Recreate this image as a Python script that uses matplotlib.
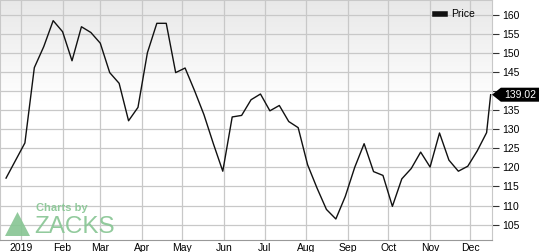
import numpy as np
import pandas as pd
import matplotlib
matplotlib.use("Agg")
import matplotlib.pyplot as plt
from matplotlib.patches import Polygon

plt.rcParams['font.family'] = ['Liberation Sans', 'DejaVu Sans']

# weekly closes, plus the last daily close
week_start = "2018-12-21"
prices = [117.2, 121.8, 126.4, 146.1, 151.6, 158.4, 155.5, 147.9, 156.8, 155.3,
          152.5, 144.8, 142.0, 132.2, 135.7, 150.0, 157.7, 157.7, 144.8, 146.0,
          140.1, 133.8, 126.2, 119.0, 133.2, 133.6, 137.7, 139.2, 134.8, 136.2,
          132.0, 130.4, 120.7, 114.6, 109.0, 106.5, 112.4, 120.0, 126.2, 118.9,
          117.9, 109.8, 117.0, 119.7, 124.0, 120.1, 129.0, 121.9, 119.0, 120.3,
          124.3, 129.1]
last_date = "2019-12-16"
last_price = 139.02

y_ticks = [105, 110, 115, 120, 125, 130, 135, 140, 145, 150, 155, 160]
y_labels = ["105", "110", "115", "120", "125", "130", "135", "", "145", "150", "155", "160"]
month_ticks = pd.date_range("2019-01-01", periods=12, freq="MS")
month_labels = ["2019", "Feb", "Mar", "Apr", "May", "Jun", "Jul", "Aug", "Sep", "Oct", "Nov", "Dec"]

dates = list(pd.date_range(week_start, periods=len(prices), freq="7D")) + [pd.Timestamp(last_date)]
values = prices + [last_price]

y_lo, y_hi = 101.0, 163.8

fig = plt.figure(figsize=(5.39, 2.52), dpi=100)
ax = fig.add_axes([0, 12 / 252, 492 / 539, 240 / 252])

# gradient background: light grey at top fading to white ~40% down
frac = np.linspace(0, 1, 256).reshape(-1, 1)
grad = np.clip((frac - 0.58) / 0.42, 0, 1)
cmap = matplotlib.colors.LinearSegmentedColormap.from_list("bg", ["#ffffff", "#e8e8e8"])
ax.imshow(grad, extent=[0, 1, 0, 1], transform=ax.transAxes, cmap=cmap,
          aspect="auto", origin="lower", zorder=0, vmin=0, vmax=1)

ax.plot(dates, values, color="#111111", linewidth=1.0, zorder=3, label="Price")

ax.set_xlim(pd.Timestamp("2018-12-16 12:00"), pd.Timestamp("2019-12-17"))
ax.set_ylim(y_lo, y_hi)

ax.yaxis.tick_right()
ax.set_yticks(y_ticks)
ax.set_yticklabels(y_labels)
ax.set_xticks(month_ticks)
ax.set_xticklabels(month_labels)
ax.tick_params(axis="y", length=5, width=0.8, color="#333333", pad=2, labelsize=7.5)
ax.tick_params(axis="x", length=0, pad=2.5, labelsize=7.5)

ax.grid(True, color="#c8c8c8", linewidth=0.9, zorder=1)
ax.set_axisbelow(True)
for side in ["top", "left", "right"]:
    ax.spines[side].set_color("#c8c8c8")
ax.spines["bottom"].set_color("#999999")

# legend
leg = ax.legend(loc="upper right", bbox_to_anchor=(0.985, 1.0), frameon=False,
                fontsize=7.5, handlelength=1.0, handletextpad=0.6)
for h in leg.legend_handles:
    h.set_linewidth(4)

# last price marker
y_frac = (last_price - y_lo) / (y_hi - y_lo)
half = 7 / 240
tag = Polygon([[1.0, y_frac], [1.018, y_frac + half], [1.096, y_frac + half],
               [1.096, y_frac - half], [1.018, y_frac - half]],
              closed=True, transform=ax.transAxes, facecolor="black",
              edgecolor="none", clip_on=False, zorder=5)
ax.add_patch(tag)
ax.text(1.057, y_frac, f"{last_price:.2f}", transform=ax.transAxes, color="white",
        fontsize=7.5, ha="center", va="center", zorder=6, clip_on=False)

# watermark
green = "#86c592"
tri = Polygon([[5 / 539, 16 / 252], [30 / 539, 16 / 252], [17.5 / 539, 40 / 252]],
              closed=True, transform=fig.transFigure, facecolor=green, alpha=0.9,
              edgecolor="none", zorder=4)
fig.patches.append(tri)
fig.text(36 / 539, 44 / 252, "Charts by", color=green, fontsize=8, fontweight="bold",
         ha="left", va="center", alpha=0.9)
fig.text(34 / 539, 25 / 252, "ZACKS", color=green, fontsize=17.5, ha="left",
         va="center", alpha=0.9)

fig.savefig("out.png", dpi=100)
